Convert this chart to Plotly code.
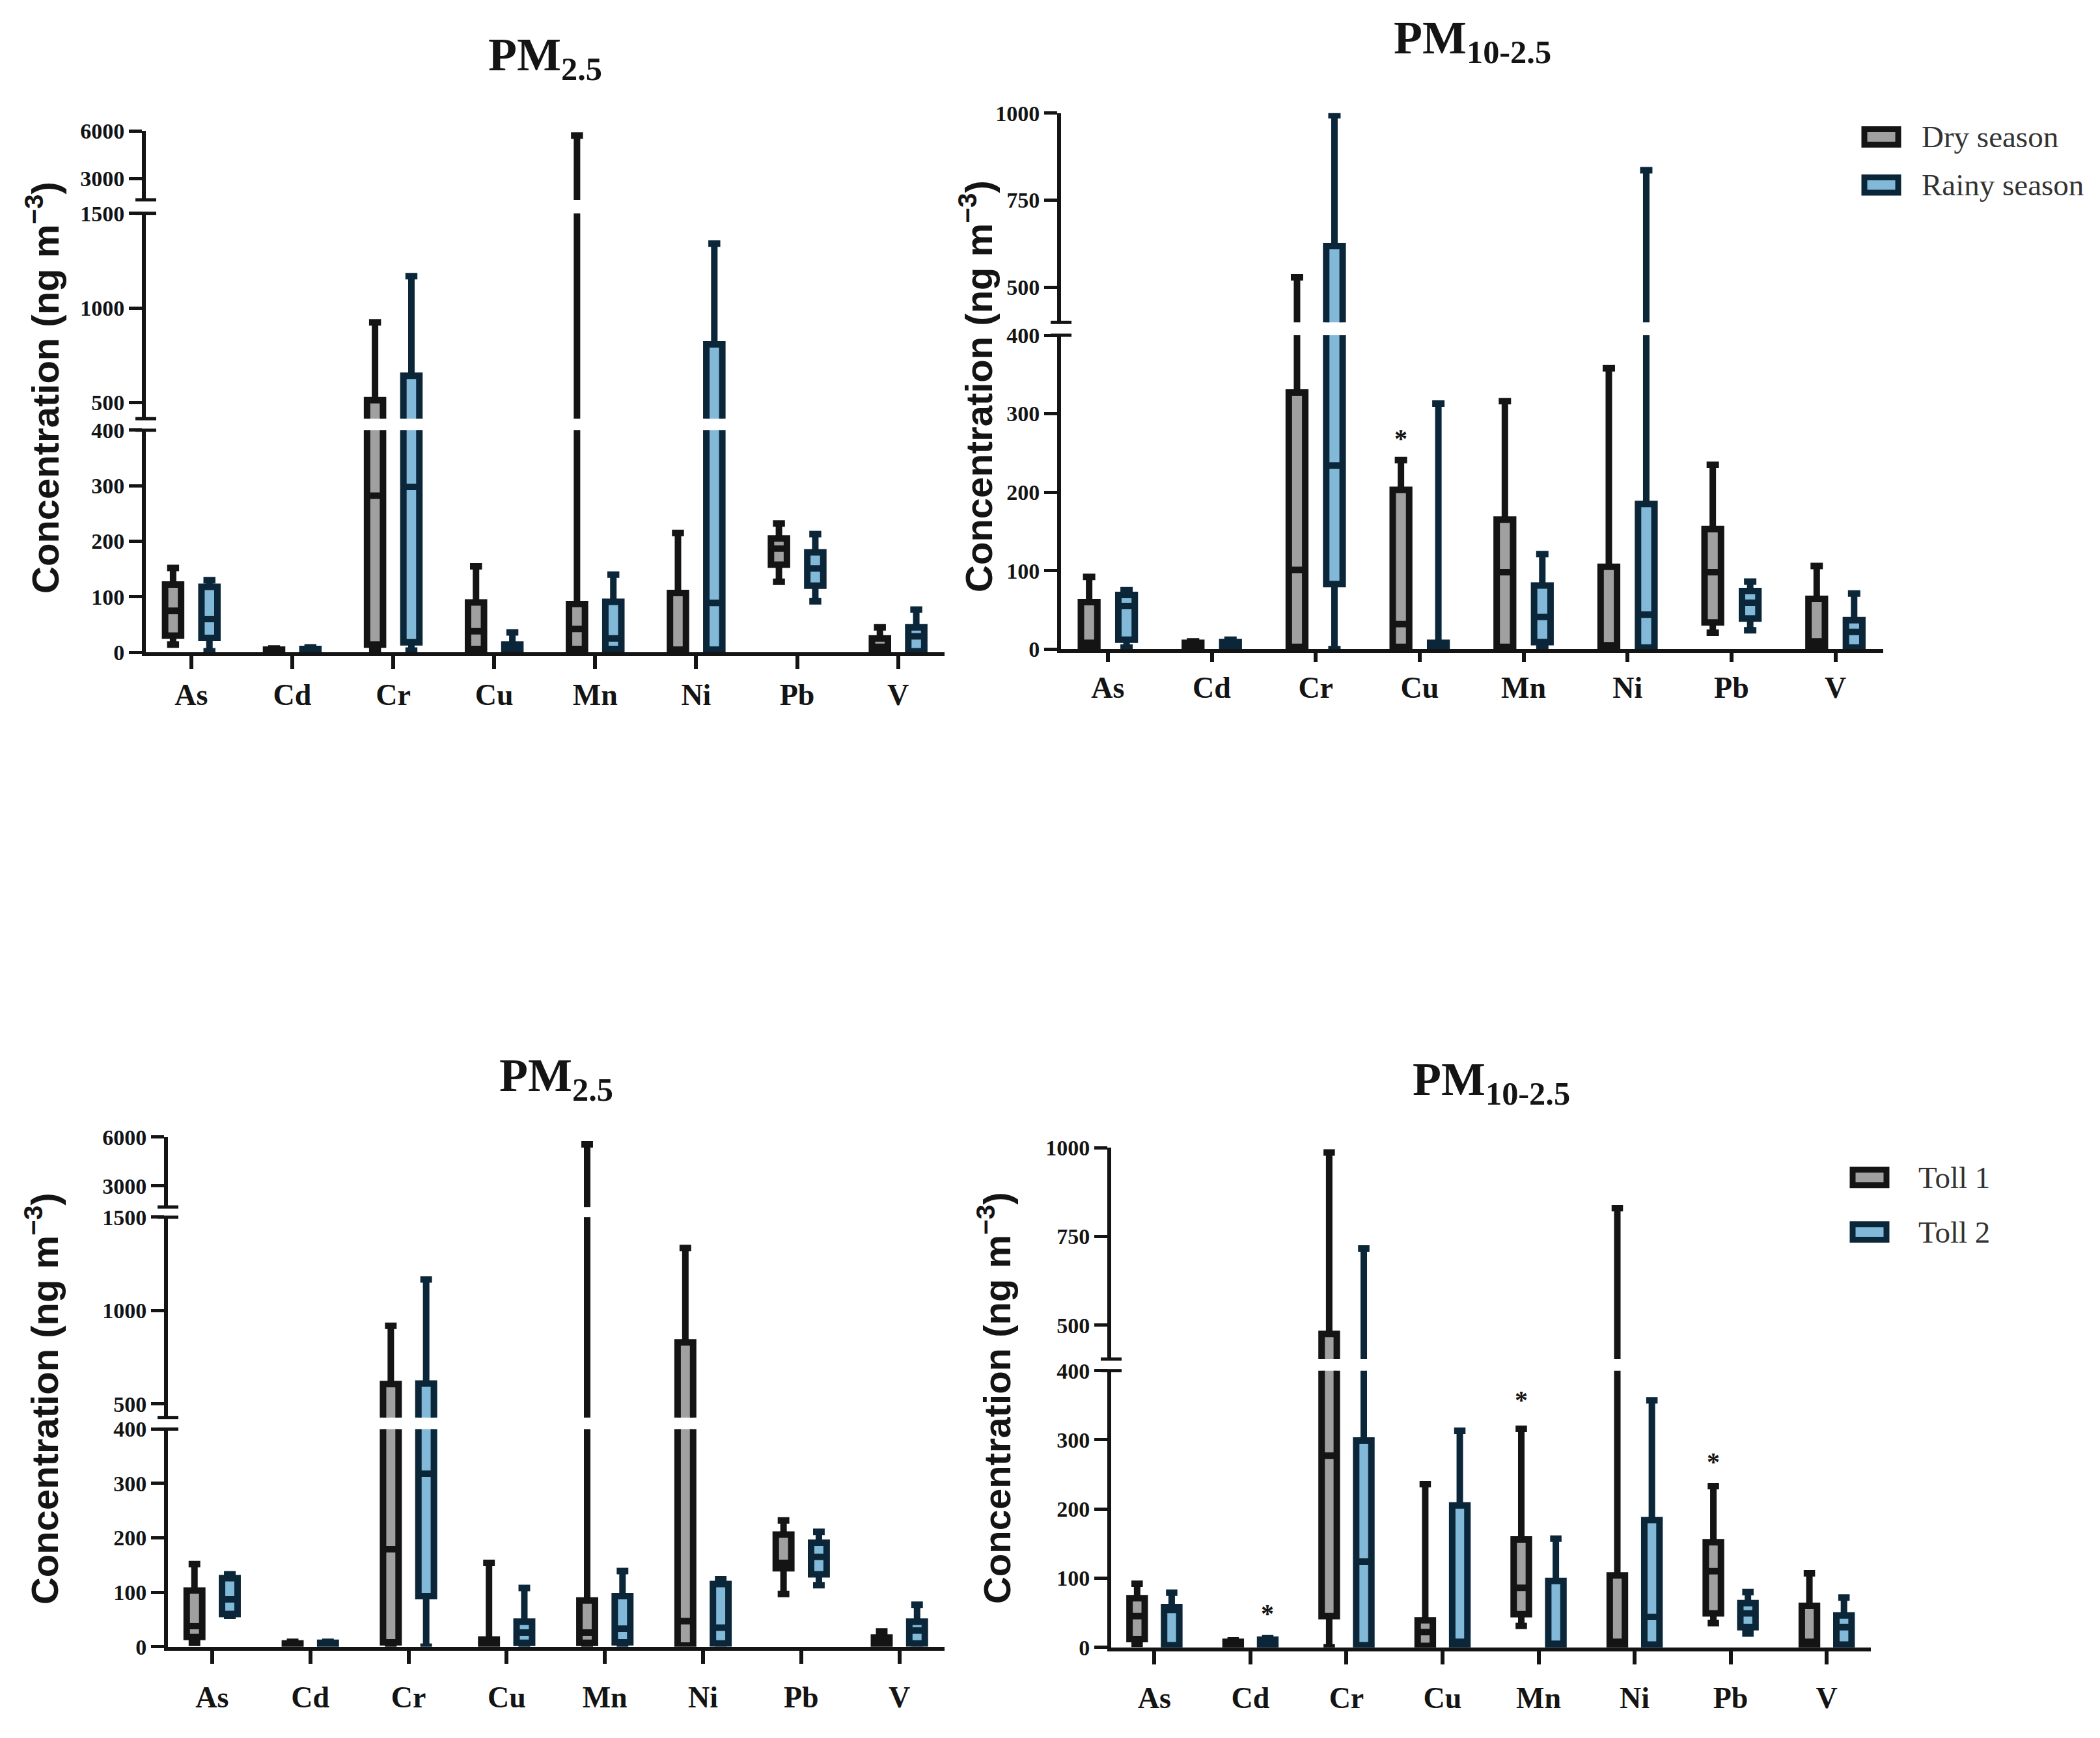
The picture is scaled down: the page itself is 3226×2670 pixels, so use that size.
import plotly.graph_objects as go

W, H = 3226, 2670

elements = ["As", "Cd", "Cr", "Cu", "Mn", "Ni", "Pb", "V"]

# ---------- Panel A: PM2.5, Dry vs Rainy season ----------
pm25_dry_min = [14, 0.5, 6, 0, 0, 0, 127, 0]
pm25_dry_q1 = [30, 1, 14, 6, 6, 2, 158, 2]
pm25_dry_med = [75, 2, 282, 38, 42, 5, 187, 10]
pm25_dry_q3 = [122, 5, 513, 90, 87, 107, 205, 25]
pm25_dry_max = [152, 7, 924, 155, 5716, 215, 232, 45]

pm25_rainy_min = [2, 0.5, 3, 0, 0, 0, 92, 0]
pm25_rainy_q1 = [26, 1, 18, 2, 6, 5, 120, 2]
pm25_rainy_med = [60, 3, 298, 6, 25, 89, 151, 29]
pm25_rainy_q3 = [118, 6, 642, 14, 91, 808, 180, 45]
pm25_rainy_max = [130, 9, 1168, 36, 140, 1340, 213, 77]

# ---------- Panel B: PM10-2.5, Dry vs Rainy season ----------
pm10_dry_min = [0, 0.5, 0, 0, 0, 0, 21, 0]
pm10_dry_q1 = [3, 1, 3, 3, 3, 2, 34, 2]
pm10_dry_med = [8, 4, 101, 32, 98, 5, 98, 10]
pm10_dry_q3 = [60, 8, 327, 203, 165, 105, 153, 64]
pm10_dry_max = [92, 10, 528, 241, 316, 358, 235, 106]

pm10_rainy_min = [2, 0.5, 0, 0, 3, 0, 24, 0]
pm10_rainy_q1 = [12, 2, 83, 1, 9, 2, 39, 2]
pm10_rainy_med = [55, 5, 234, 4, 41, 44, 59, 22]
pm10_rainy_q3 = [69, 9, 618, 8, 81, 185, 74, 37]
pm10_rainy_max = [75, 12, 994, 313, 121, 836, 86, 71]

# ---------- Panel C: PM2.5, Toll 1 vs Toll 2 ----------
pm25_t1_min = [7, 0.5, 0, 0, 0, 0, 97, 0]
pm25_t1_q1 = [18, 1, 8, 2, 7, 2, 144, 4]
pm25_t1_med = [38, 3, 179, 5, 26, 47, 154, 9]
pm25_t1_q3 = [103, 6, 607, 13, 85, 830, 206, 17]
pm25_t1_max = [152, 9, 919, 154, 5550, 1335, 232, 28]

pm25_t2_min = [57, 0.5, 0, 2, 0, 3, 113, 0]
pm25_t2_q1 = [60, 1, 93, 7, 8, 6, 133, 6]
pm25_t2_med = [87, 3, 318, 26, 33, 35, 165, 30]
pm25_t2_q3 = [126, 7, 610, 46, 93, 115, 191, 46]
pm25_t2_max = [133, 9, 1167, 108, 139, 124, 211, 77]

# ---------- Panel D: PM10-2.5, Toll 1 vs Toll 2 ----------
pm10_t1_min = [5, 0.5, 0, 0, 31, 0, 35, 0]
pm10_t1_q1 = [12, 1, 45, 2, 48, 4, 49, 4]
pm10_t1_med = [45, 4, 277, 22, 86, 8, 110, 8]
pm10_t1_q3 = [71, 8, 475, 39, 156, 104, 152, 60]
pm10_t1_max = [92, 10, 987, 236, 316, 830, 233, 107]

pm10_t2_min = [3, 0.5, 0, 0, 0, 0, 20, 0]
pm10_t2_q1 = [3, 2, 3, 2, 2, 4, 29, 4]
pm10_t2_med = [54, 6, 124, 8, 5, 44, 49, 29]
pm10_t2_q3 = [58, 11, 299, 205, 96, 184, 64, 46]
pm10_t2_max = [79, 13, 716, 313, 157, 357, 80, 72]

# significance stars: (element, group index 0/1, value)
stars_b = [("Cu", 0, 280)]
stars_d = [("Cd", 1, 62), ("Mn", 0, 371), ("Pb", 0, 282)]

season_names = ["Dry season", "Rainy season"]
toll_names = ["Toll 1", "Toll 2"]

# ---------- styling ----------
DARK = "#141414"
GRAY_FILL = "#a0a0a0"
BLUE_FILL = "#82b9d9"
BLUE_LINE = "#0b2638"
SERIF = "Liberation Serif, Times New Roman, serif"
SANS = "Liberation Sans, Arial, sans-serif"
XRANGE = [-0.45, 7.46]


def seg(v1, p1, v2, p2, pbot, ptop, ticks):
    k = (p1 - p2) / (v2 - v1)
    lo = v1 - (pbot - p1) / k
    hi = v1 + (p1 - ptop) / k
    return dict(range=[lo, hi], domain=[1 - pbot / H, 1 - ptop / H],
                ticks=ticks, pbot=pbot, ptop=ptop)


panels = [
    dict(x0=224, x1=1451,
         segs=[seg(0, 998, 400, 652, 998, 652, [0, 100, 200, 300, 400]),
               seg(500, 609, 1500, 314, 634, 314, [500, 1000, 1500]),
               seg(3000, 260, 6000, 186, 293, 186, [3000, 6000])],
         groups=[(pm25_dry_min, pm25_dry_q1, pm25_dry_med, pm25_dry_q3, pm25_dry_max),
                 (pm25_rainy_min, pm25_rainy_q1, pm25_rainy_med, pm25_rainy_q3, pm25_rainy_max)],
         title="PM<sub>2.5</sub>", ty=72, ytx=66, yty=586, stars=[], legend=None,
         standoff=0, ticklen=20),
    dict(x0=1630, x1=2893,
         segs=[seg(0, 993, 400, 504, 993, 504, [0, 100, 200, 300, 400]),
               seg(500, 429, 1000, 158, 484, 158, [500, 750, 1000])],
         groups=[(pm10_dry_min, pm10_dry_q1, pm10_dry_med, pm10_dry_q3, pm10_dry_max),
                 (pm10_rainy_min, pm10_rainy_q1, pm10_rainy_med, pm10_rainy_q3, pm10_rainy_max)],
         title="PM<sub>10-2.5</sub>", ty=46, ytx=1500, yty=584, stars=stars_b,
         legend=dict(names=season_names, sx=2890, tx=2950, ys=[195, 270]),
         standoff=0, ticklen=14),
    dict(x0=258, x1=1451,
         segs=[seg(0, 2547, 400, 2208, 2547, 2208, [0, 100, 200, 300, 400]),
               seg(500, 2169, 1500, 1878, 2190, 1878, [500, 1000, 1500]),
               seg(3000, 1829, 6000, 1753, 1862, 1753, [3000, 6000])],
         groups=[(pm25_t1_min, pm25_t1_q1, pm25_t1_med, pm25_t1_q3, pm25_t1_max),
                 (pm25_t2_min, pm25_t2_q1, pm25_t2_med, pm25_t2_q3, pm25_t2_max)],
         title="PM<sub>2.5</sub>", ty=1662, ytx=64, yty=2161, stars=[], legend=None,
         standoff=12, ticklen=20),
    dict(x0=1707, x1=2874,
         segs=[seg(0, 2548, 400, 2117, 2548, 2117, [0, 100, 200, 300, 400]),
               seg(500, 2046, 1000, 1770, 2099, 1770, [500, 750, 1000])],
         groups=[(pm10_t1_min, pm10_t1_q1, pm10_t1_med, pm10_t1_q3, pm10_t1_max),
                 (pm10_t2_min, pm10_t2_q1, pm10_t2_med, pm10_t2_q3, pm10_t2_max)],
         title="PM<sub>10-2.5</sub>", ty=1668, ytx=1527, yty=2160, stars=stars_d,
         legend=dict(names=toll_names, sx=2872, tx=2945, ys=[1816, 1901]),
         standoff=12, ticklen=20),
]

group_style = [dict(fill=GRAY_FILL, line=DARK), dict(fill=BLUE_FILL, line=BLUE_LINE)]

fig = go.Figure()
layout = dict(width=W, height=H, margin=dict(l=0, r=0, t=0, b=0),
              paper_bgcolor="white", plot_bgcolor="white", showlegend=False,
              boxmode="group", boxgap=0.28, boxgroupgap=0.56)
shapes, annotations = [], []
n = 0
for P in panels:
    xdom = [P["x0"] / W, P["x1"] / W]
    bottom_n = n + 1
    for si, S in enumerate(P["segs"]):
        n += 1
        xname = "xaxis" if n == 1 else f"xaxis{n}"
        yname = "yaxis" if n == 1 else f"yaxis{n}"
        xa = f"x{n}" if n > 1 else "x"
        ya = f"y{n}" if n > 1 else "y"
        xax = dict(domain=xdom, anchor=ya, type="category", categoryorder="array",
                   categoryarray=elements, range=XRANGE, showgrid=False,
                   zeroline=False, fixedrange=True)
        if si == 0:
            xax.update(showline=True, linecolor=DARK, linewidth=6, ticks="outside",
                       ticklen=P["ticklen"], tickwidth=6, tickcolor=DARK,
                       ticklabelstandoff=P["standoff"],
                       tickfont=dict(family=SERIF, size=46, color=DARK, weight="bold"))
        else:
            xax.update(visible=False)
        layout[xname] = xax
        layout[yname] = dict(domain=S["domain"], anchor=xa, range=S["range"],
                             showline=True, linecolor=DARK, linewidth=6,
                             ticks="outside", ticklen=20, tickwidth=5, tickcolor=DARK,
                             tickvals=S["ticks"], ticktext=[str(t) for t in S["ticks"]],
                             tickfont=dict(family=SERIF, size=34, color=DARK, weight="bold"),
                             showgrid=False, zeroline=False, fixedrange=True)
        for gi, G in enumerate(P["groups"]):
            mn, q1, md, q3, mx = G
            st = group_style[gi]
            fig.add_trace(go.Box(
                x=elements, q1=q1, median=md, q3=q3, lowerfence=mn, upperfence=mx,
                xaxis=xa, yaxis=ya, fillcolor=st["fill"],
                alignmentgroup=f"ag{n}", offsetgroup=f"g{gi}",
                line=dict(color=st["line"], width=10), whiskerwidth=0.75,
                boxpoints=False, hoverinfo="skip", showlegend=False))
        # break marks
        axx = P["x0"]
        ends = []
        if si > 0:
            ends.append(S["pbot"])
        if si < len(P["segs"]) - 1:
            ends.append(S["ptop"])
        for py in ends:
            shapes.append(dict(type="line", xref="paper", yref="paper",
                               x0=(axx - 16) / W, x1=(axx + 16) / W,
                               y0=1 - py / H, y1=1 - py / H,
                               line=dict(color=DARK, width=5)))
    # stars
    unit_px = (P["x1"] - P["x0"]) / (XRANGE[1] - XRANGE[0])
    for el, gi, val in P["stars"]:
        sidx = 0
        for k, S in enumerate(P["segs"]):
            if S["range"][0] <= val <= S["range"][1]:
                sidx = k
        an = bottom_n + sidx
        annotations.append(dict(x=el, y=val, xref=f"x{an}" if an > 1 else "x",
                                yref=f"y{an}" if an > 1 else "y",
                                xshift=(-0.18 if gi == 0 else 0.18) * unit_px,
                                yshift=-14, text="*", showarrow=False,
                                font=dict(family=SERIF, size=40, color=DARK, weight="bold")))
    # title
    annotations.append(dict(x=(P["x0"] + P["x1"]) / 2 / W, y=1 - P["ty"] / H,
                            xref="paper", yref="paper", text=P["title"], showarrow=False,
                            xanchor="center", yanchor="middle",
                            font=dict(family=SERIF, size=72, color=DARK, weight="bold")))
    # y title
    annotations.append(dict(x=P["ytx"] / W, y=1 - P["yty"] / H, xref="paper", yref="paper",
                            text="Concentration (ng m<sup>−3</sup>)", textangle=-90,
                            showarrow=False, xanchor="center", yanchor="middle",
                            font=dict(family=SANS, size=58, color=DARK, weight="bold")))
    # legend
    L = P["legend"]
    if L:
        for gi, (name, ly) in enumerate(zip(L["names"], L["ys"])):
            st = group_style[gi]
            shapes.append(dict(type="rect", xref="paper", yref="paper",
                               x0=(L["sx"] - 26) / W, x1=(L["sx"] + 26) / W,
                               y0=1 - (ly + 12) / H, y1=1 - (ly - 12) / H,
                               fillcolor=st["fill"], line=dict(color=st["line"], width=9)))
            annotations.append(dict(x=L["tx"] / W, y=1 - ly / H, xref="paper", yref="paper",
                                    text=name, showarrow=False, xanchor="left",
                                    yanchor="middle",
                                    font=dict(family=SERIF, size=47, color="#333333")))

layout["shapes"] = shapes
layout["annotations"] = annotations
fig.update_layout(**layout)
fig.write_html("out.html")
